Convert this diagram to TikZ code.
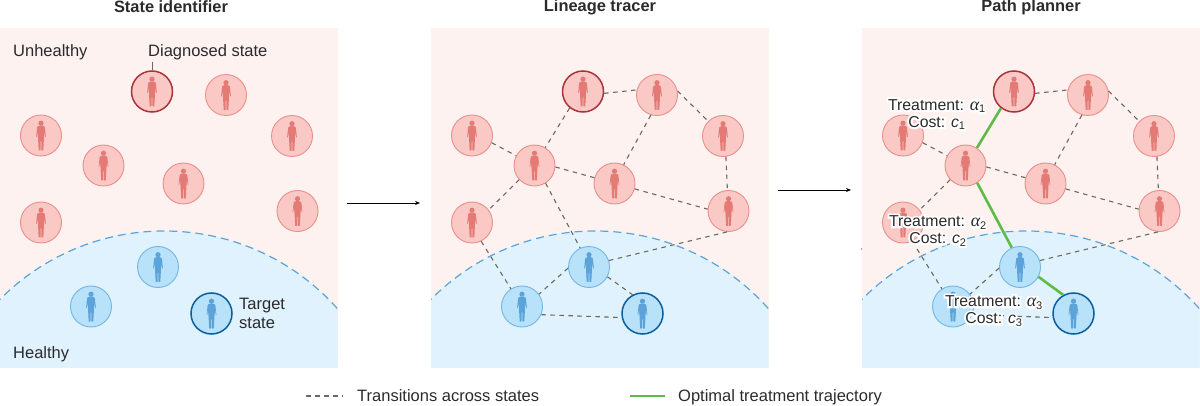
\documentclass[tikz,border=0pt]{standalone}
\usepackage{fontspec}
\setmainfont{Liberation Sans}
\newfontfamily\halofont[FakeBold=25]{Liberation Sans}
\newfontfamily\alphaplain{Liberation Serif}
\newfontfamily\alphahalo[FakeBold=25]{Liberation Serif}
\usetikzlibrary{arrows.meta}
\definecolor{pinkbg}{HTML}{FDF2F0}
\definecolor{bluebg}{HTML}{DFF2FD}
\definecolor{redfill}{HTML}{FAC8C5}
\definecolor{redline}{HTML}{EA8F89}
\definecolor{redman}{HTML}{E37A75}
\definecolor{redstrong}{HTML}{A8343A}
\definecolor{bluefill}{HTML}{B7E2F9}
\definecolor{blueline}{HTML}{74B6E2}
\definecolor{blueman}{HTML}{5BA3D9}
\definecolor{bluestrong}{HTML}{0B5E9E}
\definecolor{edgegrey}{HTML}{6B6A5C}
\definecolor{optgreen}{HTML}{5DBB46}
\definecolor{inktext}{HTML}{2B2B2B}
\let\alphaform\alphaplain
\newcommand{\alphaglyph}{{\alphaform\itshape\fontsize{18}{17}\selectfont α}}
\newcommand{\halotext}[1]{\leavevmode\rlap{\color{white}\let\alphaform\alphahalo\halofont #1}#1}
\newcommand{\treatlabel}[1]{\halotext{Treatment: \alphaglyph\textsubscript{#1}}\\\halotext{Cost: \textit{c}\textsubscript{#1}}}
\tikzset{
  x=1pt,y=-1pt,
  base/.style={circle,minimum size=41pt,inner sep=0pt,draw},
  redstate/.style={base,fill=redfill,draw=redline,line width=0.9pt},
  bluestate/.style={base,fill=bluefill,draw=blueline,line width=0.9pt},
  diagstate/.style={base,fill=redfill,draw=redstrong,line width=1.5pt},
  targetstate/.style={base,fill=bluefill,draw=bluestrong,line width=1.5pt},
  transit/.style={draw=edgegrey,line width=1.1pt,dash pattern=on 4.5pt off 4.5pt},
  optimal/.style={draw=optgreen,line width=2.6pt},
  title/.style={font=\fontsize{16.4}{18}\selectfont\bfseries,text=inktext,inner sep=0pt},
  lab/.style={font=\fontsize{16.5}{18}\selectfont,text=inktext,inner sep=0pt},
  treat/.style={font=\fontsize{15.8}{17.2}\selectfont,text=inktext,inner sep=0pt,align=center},
  flow/.style={draw=black,line width=0.7pt,-{Stealth[length=5pt,width=4pt]}},
  person/.pic={
    \fill (0,-12.3) circle[radius=2.6pt];
    \fill[rounded corners=0.5pt] (-1.8,-9.8) -- (-3.8,-8.8) -- (-4.9,1.5) -- (-4.2,1.5) -- (-3.6,-4) -- (-3,2) -- (-2.3,15) -- (-0.5,15) -- (-0.2,4) -- (0.2,4) -- (0.5,15) -- (2.3,15) -- (3,2) -- (3.6,-4) -- (4.2,1.5) -- (4.9,1.5) -- (3.8,-8.8) -- (1.8,-9.8) -- cycle;
  }
}
% background, dome and the eleven states of one panel
\newcommand{\panelbody}[1]{%
  \fill[pinkbg] (0,28) rectangle (337.5,367);
  \begin{scope}
    \clip (0,28) rectangle (337.5,367);
    \fill[bluebg] (164.3,462.8) circle[radius=231.8pt];
    \draw[blueman,line width=1.2pt,dash pattern=on 8pt off 5pt] (164.3,462.8) circle[radius=231.8pt];
  \end{scope}
  \foreach \n/\x/\y/\k/\c in {
    d/152/91.5/diagstate/redman, a/226/95/redstate/redman, e/41/135.5/redstate/redman,
    f/292/136/redstate/redman, b/103.5/165.5/redstate/redman, g/183.5/183.5/redstate/redman,
    i/41/222.5/redstate/redman, j/297.5/211/redstate/redman, h/158/267/bluestate/blueman,
    k/91/306.5/bluestate/blueman, t/211.5/313.5/targetstate/blueman} {
    \node[\k] (#1\n) at (\x,\y) {};
    \pic[fill=\c] at (\x,\y) {person};
  }
}
\begin{document}
\begin{tikzpicture}
\useasboundingbox (0,0) rectangle (1200,406);
\node[title] (t1) at (171,7) {State identifier};
\node[title] (t2) at (600,7) {Lineage tracer};
\node[title] (t3) at (1031,7) {Path planner};

% Panel 1
\begin{scope}
  \panelbody{A}
  \node[lab,anchor=base west] (unh) at (13,56.5) {Unhealthy};
  \node[lab,anchor=base west] (dia) at (148,56.5) {Diagnosed state};
  \coordinate (diatick) at (152,62);
  \draw[edgegrey,line width=0.7pt] (diatick) -- (Ad);
  \node[lab,anchor=base west] (hea) at (13,358) {Healthy};
  \node[lab,anchor=west,align=left,font=\fontsize{16.5}{18.5}\selectfont] (tar) at (239,313.5) {Target\\state};
\end{scope}

% Panel 2
\begin{scope}[shift={(431,0)}]
  \panelbody{B}
\end{scope}
\foreach \u/\au/\v/\av in {d/-129/b/59, d/-5/a/166, a/11/f/135, a/-107/g/64, e/-20/b/152, b/-4/g/164, g/-15/j/175, f/-82/j/93, b/-137/i/37, i/-64/k/122, b/-58/h/115, h/18/j/-94, h/-177/k/36, h/-28/t/118, k/-23/t/-169}
  \draw[transit] (B\u.\au) -- (B\v.\av);

% Panel 3
\begin{scope}[shift={(862,0)}]
  \panelbody{C}
\end{scope}
\foreach \u/\au/\v/\av in {d/-5/a/166, a/11/f/135, a/-107/g/64, e/-20/b/152, b/-4/g/164, g/-15/j/175, f/-82/j/93, b/-137/i/37, i/-64/k/122, h/18/j/-94, h/-177/k/36, k/-23/t/-169}
  \draw[transit] (C\u.\au) -- (C\v.\av);
\foreach \u/\au/\v/\av in {d/-128/b/57, b/-56/h/113, h/-28/t/119}
  \draw[optimal] (C\u.\au) -- (C\v.\av);
\node[treat] (l1) at (937,114.5) {\treatlabel{1}};
\node[treat] (l2) at (938,231) {\treatlabel{2}};
\node[treat] (l3) at (994,311) {\treatlabel{3}};

% Flow arrows
\coordinate (a1s) at (347,203); \coordinate (a1e) at (420,203);
\coordinate (a2s) at (778,190); \coordinate (a2e) at (851,190);
\draw[flow] (a1s) -- (a1e);
\draw[flow] (a2s) -- (a2e);
\fill[edgegrey!70!black] (861.5,249) circle[radius=0.6pt];

% Legend
\coordinate (k1s) at (306,396); \coordinate (k1e) at (343,396);
\coordinate (k2s) at (630,396); \coordinate (k2e) at (665,396);
\draw[transit] (k1s) -- (k1e);
\draw[optimal] (k2s) -- (k2e);
\node[lab,anchor=base west] (k1) at (357,401.5) {Transitions across states};
\node[lab,anchor=base west] (k2) at (678,401.5) {Optimal treatment trajectory};
\end{tikzpicture}
\end{document}
